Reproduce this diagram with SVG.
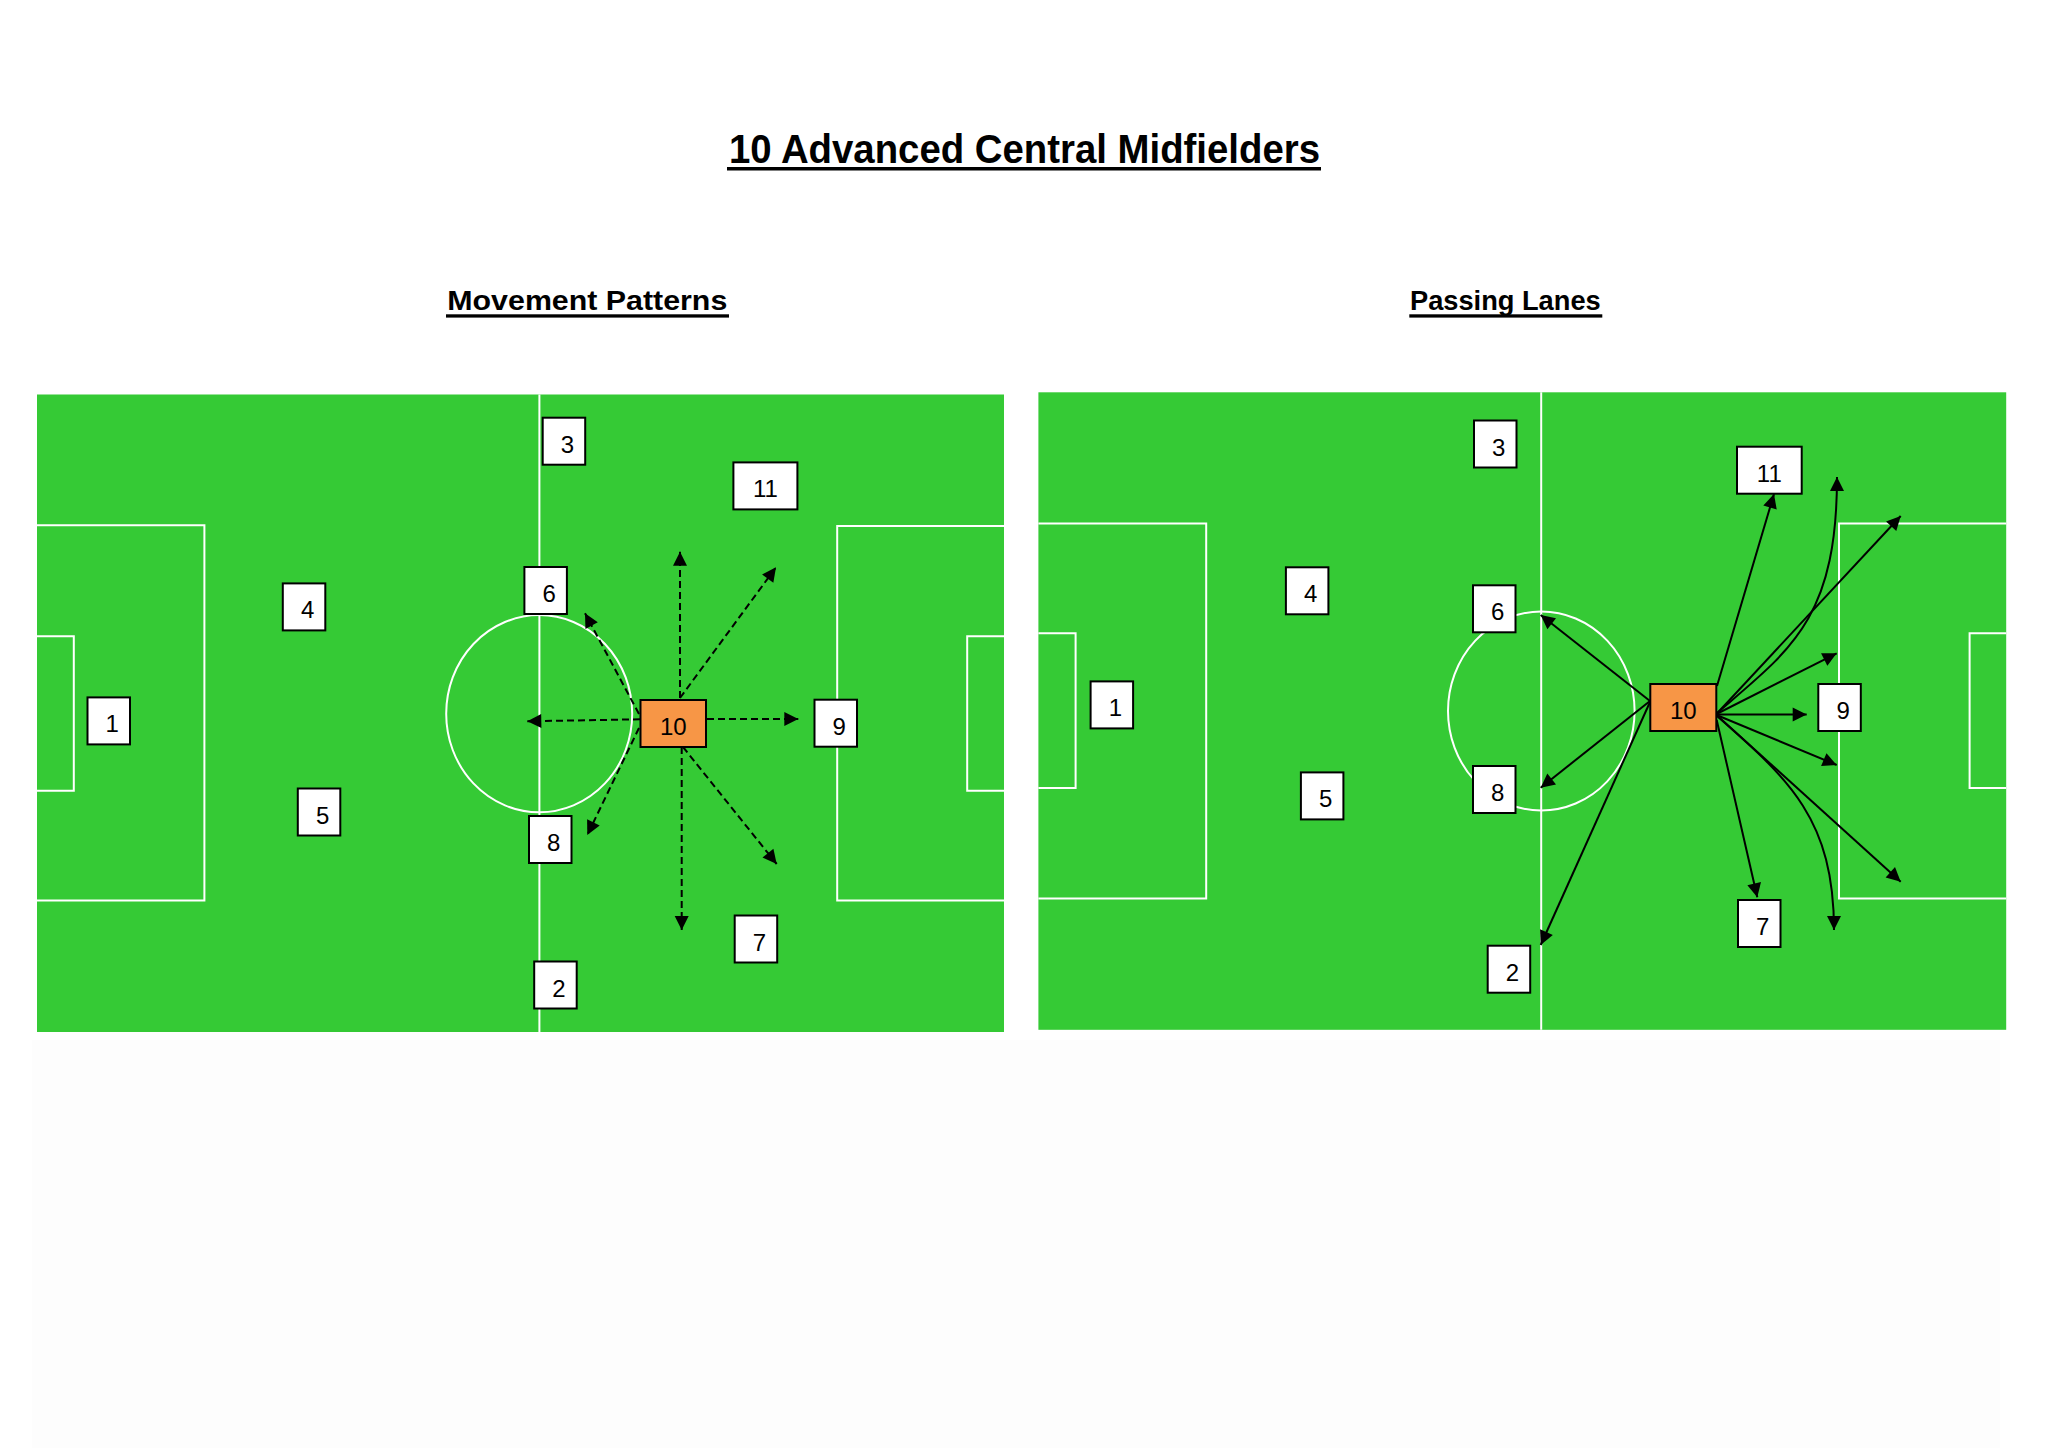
<svg xmlns="http://www.w3.org/2000/svg" width="2048" height="1448" viewBox="0 0 2048 1448">
  <defs>
    <marker id="ah" markerUnits="userSpaceOnUse" markerWidth="16" markerHeight="16" refX="14" refY="7" orient="auto" overflow="visible">
      <path d="M0,0 L14,7 L0,14 z" fill="#000"/>
    </marker>
    <style>
      .field{fill:#35ca35}
      .mark{fill:none;stroke:#fff;stroke-width:2}
      .box{fill:#fff;stroke:#000;stroke-width:2}
      .box10{fill:#f79646;stroke:#000;stroke-width:2}
      .num{font-family:"Liberation Sans",Arial,sans-serif;font-size:24px;fill:#000;text-anchor:middle}
      .dash{fill:none;stroke:#000;stroke-width:2;stroke-dasharray:7 4;marker-end:url(#ah)}
      .solid{fill:none;stroke:#000;stroke-width:2;marker-end:url(#ah)}
      .head{font-family:"Liberation Sans",Arial,sans-serif;font-weight:bold;fill:#000}
    </style>
  </defs>
  <rect x="0" y="0" width="2048" height="1448" fill="#fff"/>
  <rect x="32" y="1040" width="1968" height="408" fill="#fdfdfd"/>

  <!-- Headings -->
  <g id="title">
    <text class="head" x="729" y="162.7" font-size="40" textLength="591" lengthAdjust="spacingAndGlyphs">10 Advanced Central Midfielders</text>
    <rect x="727" y="167" width="594" height="3.5" fill="#000"/>
  </g>
  <g id="subtitle-movement">
    <text class="head" x="447.3" y="310" font-size="27" textLength="280" lengthAdjust="spacingAndGlyphs">Movement Patterns</text>
    <rect x="446" y="314.3" width="283" height="3.3" fill="#000"/>
  </g>
  <g id="subtitle-passing">
    <text class="head" x="1410" y="310" font-size="27" textLength="190.7" lengthAdjust="spacingAndGlyphs">Passing Lanes</text>
    <rect x="1409.3" y="314.3" width="193" height="3.3" fill="#000"/>
  </g>

  <!-- Left pitch -->
  <g id="pitch-left">
    <rect class="field" x="37" y="394.5" width="967" height="637.5"/>
    <line class="mark" x1="539.4" y1="394.5" x2="539.4" y2="1032"/>
    <path class="mark" d="M37,525.3 H204.4 V900.4 H37"/>
    <path class="mark" d="M37,636.3 H73.8 V790.7 H37"/>
    <path class="mark" d="M1004,526 H837.2 V900.4 H1004"/>
    <path class="mark" d="M1004,636.3 H967.2 V790.7 H1004"/>
    <ellipse class="mark" cx="539.2" cy="713.7" rx="93" ry="98.6"/>
  </g>

  <!-- Right pitch -->
  <g id="pitch-right">
    <rect class="field" x="1038.4" y="392.3" width="967.8" height="637.5"/>
    <line class="mark" x1="1541.2" y1="392.3" x2="1541.2" y2="1029.8"/>
    <path class="mark" d="M1038.4,523.5 H1206.2 V898.6 H1038.4"/>
    <path class="mark" d="M1038.4,633.2 H1075.6 V788 H1038.4"/>
    <path class="mark" d="M2006.2,523.5 H1839 V898.6 H2006.2"/>
    <path class="mark" d="M2006.2,633.2 H1969.6 V788 H2006.2"/>
    <ellipse class="mark" cx="1541.3" cy="711" rx="93.3" ry="99.5"/>
  </g>

  <!-- Connectors -->
  <g id="connectors">
    <path class="dash" d="M680,698 L680,551.7"/>
    <path class="dash" d="M680,698 L776,567.3"/>
    <path class="dash" d="M707,719 L798.3,719"/>
    <path class="dash" d="M640,719.3 L527.3,721.3"/>
    <path class="dash" d="M639,714 L585,613.3"/>
    <path class="dash" d="M639,728 L587.3,835"/>
    <path class="dash" d="M681.7,747 L681.7,930"/>
    <path class="dash" d="M683,747 L776.7,864"/>
    <path class="solid" d="M1650,701 L1540.7,615"/>
    <path class="solid" d="M1650,701 L1540.7,787.7"/>
    <path class="solid" d="M1650,702 L1540.7,945"/>
    <path class="solid" d="M1717,686 L1774,494"/>
    <path class="solid" d="M1717,713 C1790,650 1837,620 1837,477"/>
    <path class="solid" d="M1716.5,714 L1900.7,516"/>
    <path class="solid" d="M1716.5,714 L1836.7,653.3"/>
    <path class="solid" d="M1716.5,714.5 L1806.7,714.5"/>
    <path class="solid" d="M1716.5,715 L1836.7,765"/>
    <path class="solid" d="M1716.5,715 L1900.7,881.7"/>
    <path class="solid" d="M1717,716 C1790,780 1834,820 1834,930"/>
    <path class="solid" d="M1716.7,720 L1757.3,897.3"/>
  </g>

  <!-- Left pitch players -->
  <g id="L1"><rect class="box" x="87.5" y="697.4" width="42.5" height="47"/><text class="num" x="112.3" y="732.4">1</text></g>
  <g id="L4"><rect class="box" x="282.8" y="583.4" width="42.5" height="47"/><text class="num" x="307.6" y="618.4">4</text></g>
  <g id="L5"><rect class="box" x="297.8" y="788.5" width="42.5" height="47"/><text class="num" x="322.6" y="823.5">5</text></g>
  <g id="L3"><rect class="box" x="542.7" y="417.7" width="42.5" height="47"/><text class="num" x="567.5" y="452.7">3</text></g>
  <g id="L6"><rect class="box" x="524.4" y="567" width="42.5" height="47"/><text class="num" x="549.2" y="602">6</text></g>
  <g id="L8"><rect class="box" x="529" y="816" width="42.5" height="47"/><text class="num" x="553.8" y="851">8</text></g>
  <g id="L2"><rect class="box" x="534.2" y="961.5" width="42.5" height="47"/><text class="num" x="559" y="996.5">2</text></g>
  <g id="L11"><rect class="box" x="733.4" y="462.4" width="64" height="47"/><text class="num" x="765.4" y="497.4">11</text></g>
  <g id="L10"><rect class="box10" x="640.5" y="700" width="65.5" height="47"/><text class="num" x="673.3" y="735">10</text></g>
  <g id="L9"><rect class="box" x="814.5" y="699.7" width="42.5" height="47"/><text class="num" x="839.3" y="734.7">9</text></g>
  <g id="L7"><rect class="box" x="734.7" y="915.5" width="42.5" height="47"/><text class="num" x="759.5" y="950.5">7</text></g>

  <!-- Right pitch players -->
  <g id="R1"><rect class="box" x="1090.6" y="681.4" width="42.5" height="47"/><text class="num" x="1115.4" y="716.4">1</text></g>
  <g id="R4"><rect class="box" x="1285.9" y="567.3" width="42.5" height="47"/><text class="num" x="1310.7" y="602.3">4</text></g>
  <g id="R5"><rect class="box" x="1300.9" y="772.4" width="42.5" height="47"/><text class="num" x="1325.7" y="807.4">5</text></g>
  <g id="R3"><rect class="box" x="1474" y="420.5" width="42.5" height="47"/><text class="num" x="1498.8" y="455.5">3</text></g>
  <g id="R6"><rect class="box" x="1473" y="585.3" width="42.5" height="47"/><text class="num" x="1497.8" y="620.3">6</text></g>
  <g id="R8"><rect class="box" x="1473" y="766" width="42.5" height="47"/><text class="num" x="1497.8" y="801">8</text></g>
  <g id="R2"><rect class="box" x="1487.7" y="945.7" width="42.5" height="47"/><text class="num" x="1512.5" y="980.7">2</text></g>
  <g id="R11"><rect class="box" x="1737" y="446.7" width="64.7" height="47"/><text class="num" x="1769.3" y="481.7">11</text></g>
  <g id="R10"><rect class="box10" x="1650.3" y="684" width="66" height="47"/><text class="num" x="1683.3" y="719">10</text></g>
  <g id="R9"><rect class="box" x="1818.3" y="684" width="42.5" height="47"/><text class="num" x="1843.1" y="719">9</text></g>
  <g id="R7"><rect class="box" x="1738" y="900" width="42.5" height="47"/><text class="num" x="1762.8" y="935">7</text></g>
</svg>
